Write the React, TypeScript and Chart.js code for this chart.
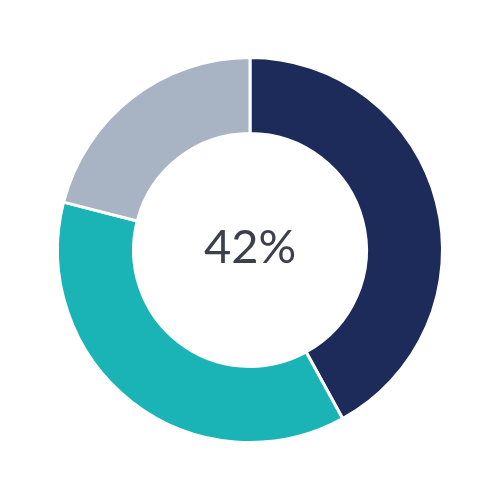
import { useEffect, useRef } from 'react';
import { Chart, registerables } from 'chart.js';

Chart.register(...registerables);

const labels = ['Navy', 'Teal', 'Gray'];
const values = [42, 37, 21];
const colors = ['#1c2b5a', '#1ab4b7', '#a8b3c3'];
const centerLabel = '42%';

export default function App() {
  const canvasRef = useRef<HTMLCanvasElement>(null);
  const chartRef = useRef<Chart | null>(null);

  useEffect(() => {
    if (!canvasRef.current) return;
    chartRef.current?.destroy();
    chartRef.current = new Chart(canvasRef.current, {
      type: 'doughnut',
      data: {
        labels,
        datasets: [{
          data: values,
          backgroundColor: colors,
          borderColor: '#fff',
          borderWidth: 3,
          hoverOffset: 0,
        }],
      },
      options: {
        animation: false,
        responsive: true,
        maintainAspectRatio: false,
        cutout: '60.5%',
        layout: { padding: 56 },
        plugins: {
          legend: { display: false },
          tooltip: { enabled: false },
        },
      },
    });
    return () => { chartRef.current?.destroy(); };
  }, []);

  return (
    <div style={{ position: 'fixed', left: 0, top: 0, width: 500, height: 500, background: '#fff' }}>
      <canvas ref={canvasRef} />
      <div
        style={{
          position: 'absolute', left: 0, top: -5, width: 500, height: 500,
          display: 'flex', alignItems: 'center', justifyContent: 'center',
          fontFamily: 'Lato, sans-serif', fontSize: 47, color: '#3b404a', pointerEvents: 'none',
        }}
      >
        {centerLabel}
      </div>
    </div>
  );
}
